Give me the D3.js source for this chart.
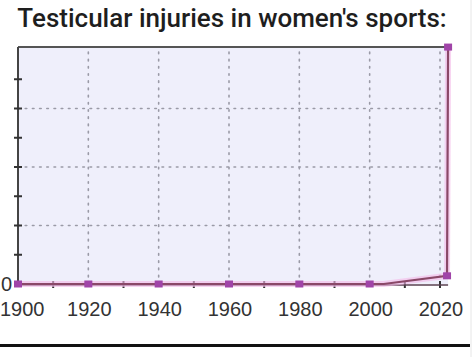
<!DOCTYPE html>
<html><head><meta charset="utf-8">
<script src="https://cdn.jsdelivr.net/npm/d3@7"></script>
<style>html,body{margin:0;padding:0;background:#fff;}svg{display:block;}</style>
</head><body>
<svg id="c" width="474" height="357"></svg>
<script>
const title = "Testicular injuries in women's sports:";
const years = [1900, 1920, 1940, 1960, 1980, 2000, 2004, 2022, 2022.3];
const values = [0, 0, 0, 0, 0, 0, 0, 0.14, 4.05];
const markerYears = [1900, 1920, 1940, 1960, 1980, 2000, 2022, 2022.3];
const markerValues = [0, 0, 0, 0, 0, 0, 0.14, 4.05];
const xTickLabels = ["1900", "1920", "1940", "1960", "1980", "2000", "2020"];
const xMinorTicks = [1910, 1930, 1950, 1970, 1990, 2010];
const yTickLabels = ["0"];
const yTicks = [0.5, 1, 1.5, 2, 2.5, 3, 3.5];
const yGrid = [1, 2, 3];

const svg = d3.select("#c");
const x = d3.scaleLinear().domain([1900, 2020]).range([18, 440]);
const y = d3.scaleLinear().domain([0, 4]).range([284, 50]);
const xEnd = 2022.3, yTop = 4.05;

// title
const tt = svg.append("text").attr("x", 232).attr("y", 27).attr("text-anchor", "middle")
  .attr("font-family", "Roboto, 'Noto Sans', sans-serif").attr("font-weight", 500)
  .attr("font-size", 26).attr("fill", "#1e1e1e").text(title);
const tw = tt.node().getComputedTextLength();
if (tw > 432) tt.attr("textLength", 430).attr("lengthAdjust", "spacingAndGlyphs");

// plot background
svg.append("rect").attr("x", x(1900)).attr("y", y(yTop))
  .attr("width", x(xEnd) - x(1900)).attr("height", y(0) - y(yTop)).attr("fill", "#efeffb");

// grid
const g = svg.append("g").attr("stroke", "#9a9aa6").attr("stroke-width", 1.6)
  .attr("stroke-dasharray", "1.6,5.6").attr("stroke-linecap", "round");
xTickLabels.slice(1).forEach(t => {
  g.append("line").attr("x1", x(+t)).attr("x2", x(+t)).attr("y1", y(yTop) + 5).attr("y2", y(0));
});
yGrid.forEach(v => {
  g.append("line").attr("x1", x(1900)).attr("x2", x(2020)).attr("y1", y(v)).attr("y2", y(v));
});

// frame: top and left
svg.append("line").attr("x1", x(1900)).attr("x2", x(xEnd)).attr("y1", y(yTop)).attr("y2", y(yTop))
  .attr("stroke", "#555").attr("stroke-width", 2);
svg.append("line").attr("x1", x(1900)).attr("x2", x(1900)).attr("y1", y(yTop)).attr("y2", y(0))
  .attr("stroke", "#444").attr("stroke-width", 2);

// y ticks
yTicks.forEach(v => {
  svg.append("line").attr("x1", x(1900) - 4).attr("x2", x(1900) + 4).attr("y1", y(v)).attr("y2", y(v))
    .attr("stroke", "#333").attr("stroke-width", 2);
});
// x minor ticks
xMinorTicks.concat([2020]).forEach(t => {
  svg.append("line").attr("x1", x(t)).attr("x2", x(t)).attr("y1", y(0) - 3).attr("y2", y(0) + 4)
    .attr("stroke", "#333").attr("stroke-width", 2);
});
// x axis base
svg.append("line").attr("x1", x(1900)).attr("x2", x(xEnd)).attr("y1", y(0) + 1).attr("y2", y(0) + 1)
  .attr("stroke", "#5a4050").attr("stroke-width", 1.5);

// data line with glow
const pts = years.map((yr, i) => [yr, values[i]]);
const line = d3.line().x(d => x(d[0])).y(d => y(d[1]));
svg.append("path").attr("d", line(pts)).attr("fill", "none")
  .attr("stroke", "#f4b8e8").attr("stroke-width", 6).attr("opacity", 0.6);
svg.append("path").attr("d", line(pts)).attr("fill", "none")
  .attr("stroke", "#8a4868").attr("stroke-width", 2.2);

// markers
markerYears.forEach((yr, i) => {
  svg.append("rect").attr("x", x(yr) - 4).attr("y", y(markerValues[i]) - 3.5)
    .attr("width", 8).attr("height", 7).attr("fill", "#a044a8");
});

// labels
const lab = svg.append("g").attr("font-family", "'Liberation Sans', Arial, sans-serif")
  .attr("font-size", 20).attr("fill", "#333").attr("text-anchor", "middle");
xTickLabels.forEach((t, i) => {
  const tx = lab.append("text").attr("x", x(+t) + 1).attr("y", 316).text(t);
  if (i === 0) tx.attr("text-anchor", "start").attr("x", 0);
});
svg.append("text").attr("x", 12).attr("y", 291).attr("text-anchor", "end")
  .attr("font-family", "'Liberation Sans', Arial, sans-serif").attr("font-size", 20)
  .attr("fill", "#333").text(yTickLabels[0]);

// bottom black rule
svg.append("rect").attr("x", 0).attr("y", 344).attr("width", 470).attr("height", 3).attr("fill", "#111");
svg.append("line").attr("x1", 471).attr("x2", 471).attr("y1", 0).attr("y2", 357)
  .attr("stroke", "#e6e6e6").attr("stroke-width", 1);
</script>
</body></html>
